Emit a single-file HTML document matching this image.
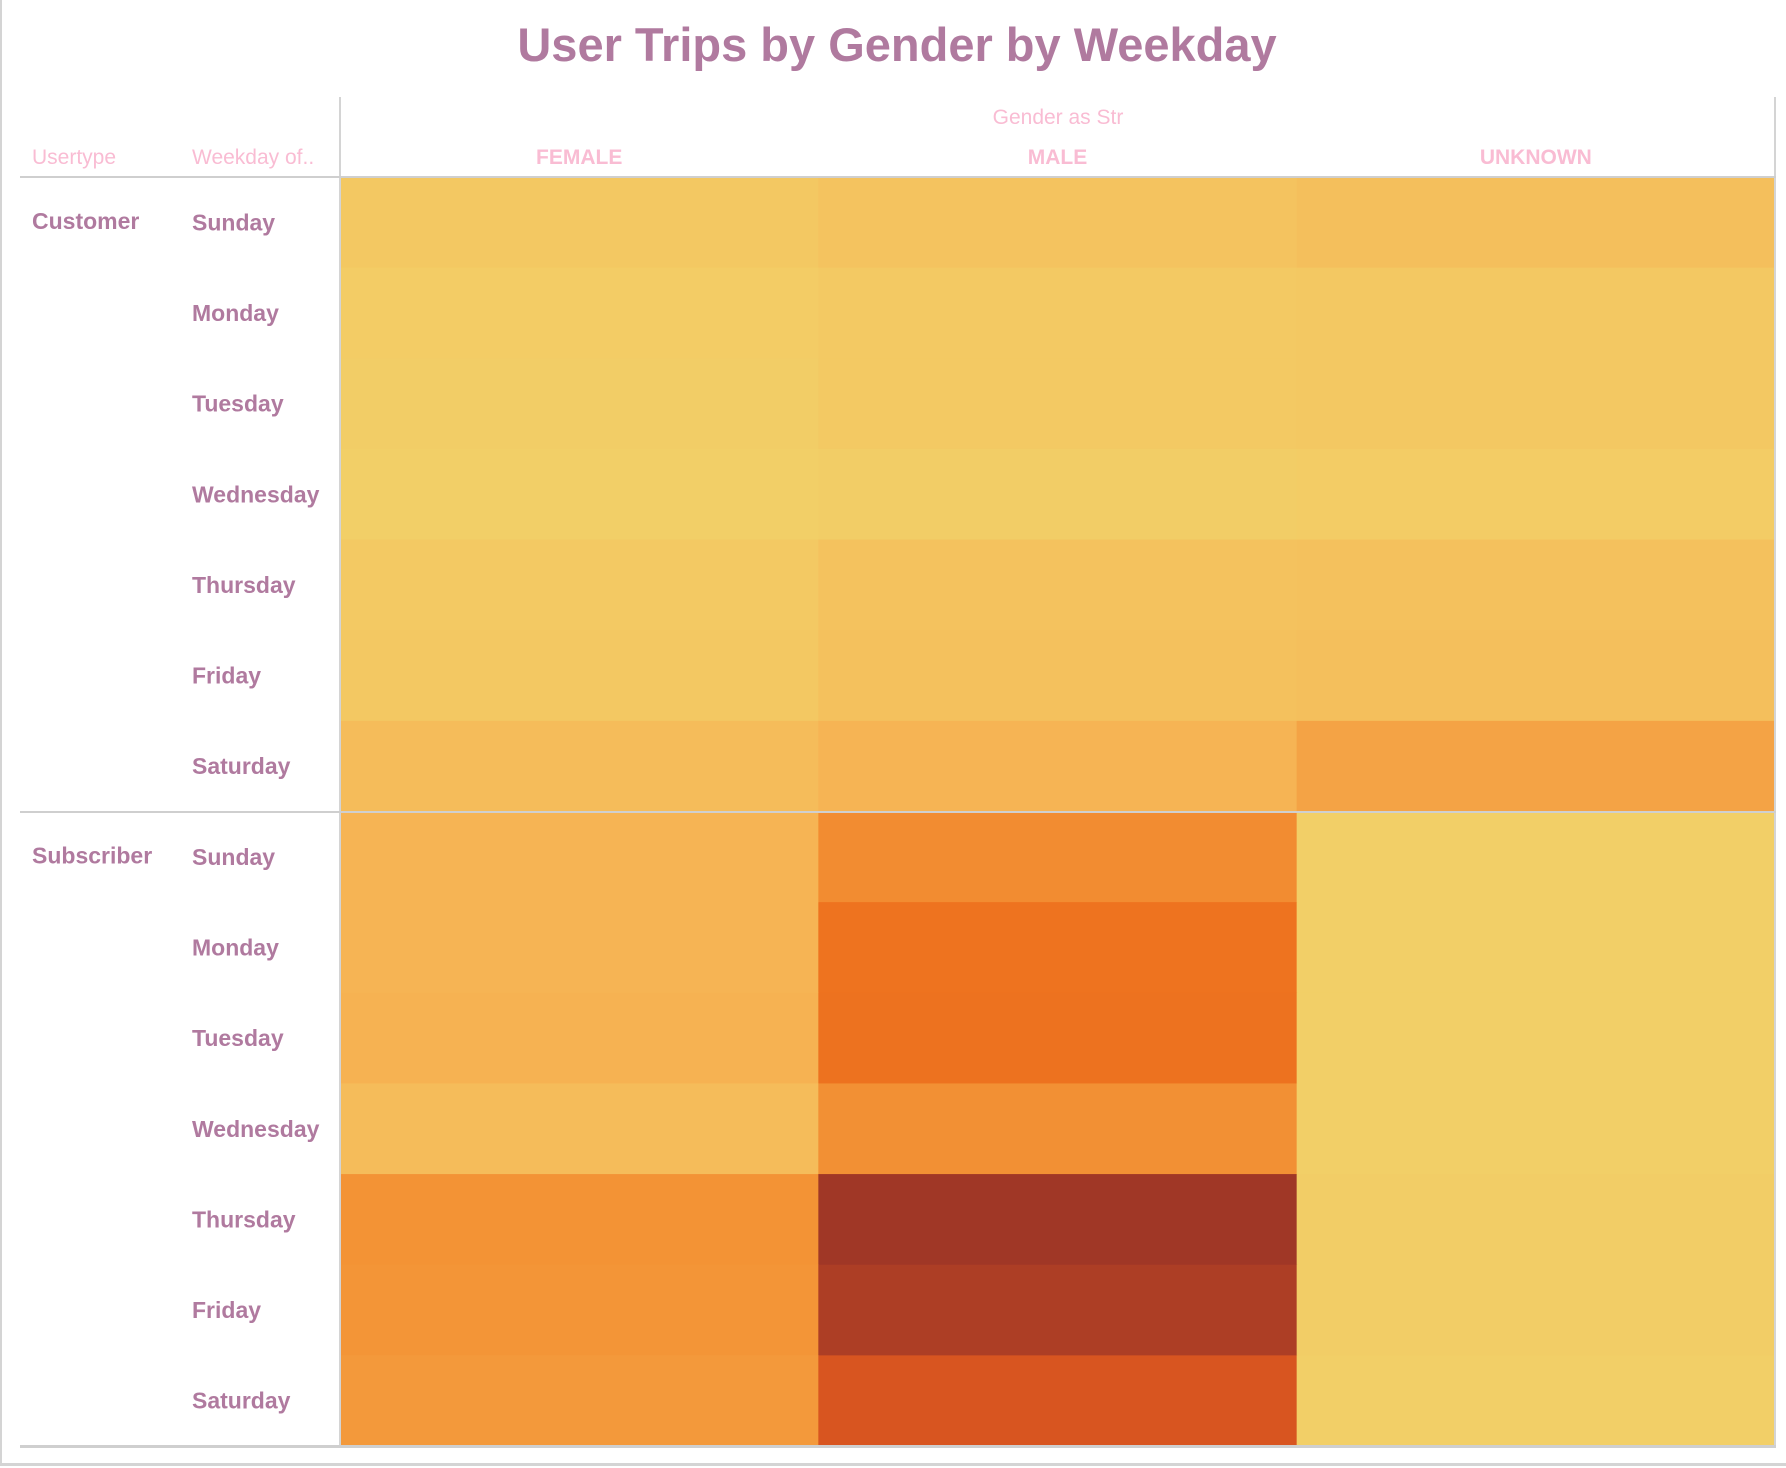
<!DOCTYPE html>
<html><head><meta charset="utf-8"><style>
html,body{margin:0;padding:0;background:#fff}
svg{display:block}
text{font-family:"Liberation Sans",sans-serif}
</style></head><body>
<svg id="chart" width="1786" height="1468" viewBox="0 0 1786 1468">
<rect x="0" y="0" width="2" height="1466" fill="#d4d4d4"/>
<rect x="0" y="1463" width="1786" height="3" fill="#d4d4d4"/>
<text x="897" y="61" text-anchor="middle" font-size="47" font-weight="bold" fill="#B07A9F">User Trips by Gender by Weekday</text>
<text x="1058" y="124" text-anchor="middle" font-size="21" fill="#F9BCD3">Gender as Str</text>
<text x="32" y="164" font-size="21" fill="#F9BCD3">Usertype</text>
<text x="192" y="164" font-size="21" fill="#F9BCD3">Weekday of..</text>
<g id="cells"></g>
<g id="labels"></g>
<rect x="339" y="97" width="2" height="1350" fill="#d4d4d4"/>
<rect x="1774" y="97" width="2" height="1350" fill="#d4d4d4"/>
<rect x="20" y="176" width="1756" height="2" fill="#cfcfcf"/>
<rect x="20" y="811" width="1756" height="2" fill="#cfcfcf"/>
<rect x="20" y="1445" width="1756" height="3" fill="#cfcfcf"/>
</svg>
<script>
const genders = ["FEMALE","MALE","UNKNOWN"];
const usertypes = ["Customer","Subscriber"];
const weekdays = ["Sunday","Monday","Tuesday","Wednesday","Thursday","Friday","Saturday"];
const customerTrips = [[6,9,12],[3,5,6],[2,5,6],[1,2,3],[5,10,11],[6,11,12],[14,20,28]];
const subscriberTrips = [[20,39,1],[20,50,1],[21,51,1],[14,37,1],[36,100,2],[35,93,2],[33,70,1]];

const NS="http://www.w3.org/2000/svg";
const cells=document.getElementById('cells');
const labels=document.getElementById('labels');
const gx0=340, gx1=1775, gy0=177, gy1=1446;
const colW=(gx1-gx0)/genders.length;
const nRows=usertypes.length*weekdays.length;
const rowH=(gy1-gy0)/nRows;
const allVals=customerTrips.concat(subscriberTrips).flat();
const vmin=0, vmax=Math.max(...allVals);
const stops=[[0,[242,208,104]],[0.2,[246,180,84]],[0.35,[243,149,55]],[0.5,[238,115,31]],[0.7,[216,85,32]],[1,[160,55,38]]];
function color(v){
  const t=(v-vmin)/(vmax-vmin);
  for(let i=1;i<stops.length;i++){
    if(t<=stops[i][0]){
      const a=stops[i-1],b=stops[i];const f=(t-a[0])/(b[0]-a[0]);
      const c=a[1].map((x,k)=>Math.round(x+(b[1][k]-x)*f));
      return `rgb(${c[0]},${c[1]},${c[2]})`;
    }
  }
  return 'rgb(160,55,38)';
}
function xPos(g){return gx0+g*colW;}
function yPos(r){return gy0+r*rowH;}
genders.forEach((g,gi)=>{
  const t=document.createElementNS(NS,'text');
  t.setAttribute('x',xPos(gi)+colW/2);t.setAttribute('y',164);
  t.setAttribute('text-anchor','middle');t.setAttribute('font-size','21');t.setAttribute('font-weight','bold');t.setAttribute('fill','#F9BCD3');
  t.textContent=g;
  
  
  labels.appendChild(t);
});
[customerTrips,subscriberTrips].forEach((data,ui)=>{
  const ut=document.createElementNS(NS,'text');
  ut.setAttribute('x',32);ut.setAttribute('y',yPos(ui*7)+52);
  ut.setAttribute('font-size','23');ut.setAttribute('font-weight','bold');ut.setAttribute('fill','#B07A9F');
  ut.textContent=usertypes[ui];
  
  
  labels.appendChild(ut);
  data.forEach((row,di)=>{
    const r=ui*7+di;
    const wt=document.createElementNS(NS,'text');
    wt.setAttribute('x',192);wt.setAttribute('y',yPos(r)+rowH/2+8);
    wt.setAttribute('font-size','23');wt.setAttribute('font-weight','bold');wt.setAttribute('fill','#B07A9F');
    wt.textContent=weekdays[di];
    
    
    labels.appendChild(wt);
    row.forEach((v,gi)=>{
      const c=document.createElementNS(NS,'rect');
      c.setAttribute('x',xPos(gi));c.setAttribute('y',yPos(r));
      c.setAttribute('width',colW+0.5);c.setAttribute('height',rowH+0.5);
      c.setAttribute('fill',color(v));
      
      
      cells.appendChild(c);
    });
  });
});
</script>
</body></html>
